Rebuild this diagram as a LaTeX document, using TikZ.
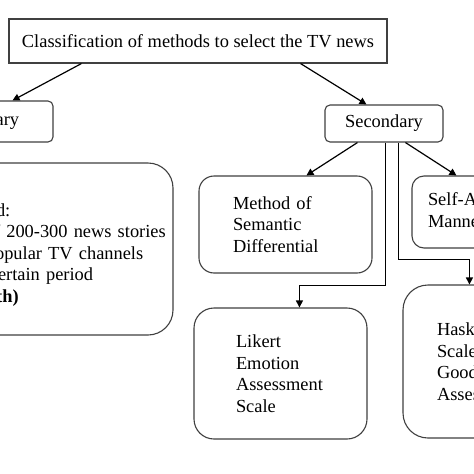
\documentclass[tikz,border=0pt]{standalone}
\usepackage{fontspec}
\setmainfont{Liberation Serif}
\usetikzlibrary{arrows.meta}
\begin{document}
\begin{tikzpicture}[x=1pt,y=-1pt,
  every node/.style={font=\fontsize{18.4}{21.5}\selectfont},
  boxline/.style={draw=black!75,line width=1.1pt},
  sqbox/.style={boxline,rectangle,inner sep=0pt},
  rbox/.style={boxline,rectangle,inner sep=0pt,align=left},
  arr/.style={line width=1.2pt,-{Triangle[length=7pt,width=7pt]}}]
\useasboundingbox (0,0) rectangle (474,474);
\clip (0,0) rectangle (474,474);
\fill[white] (0,0) rectangle (474,474);
% boxes
\node[sqbox,minimum width=378pt,minimum height=44pt] (title) at (198,41) {Classification of methods to select the TV news};
\node[rbox,rounded corners=5pt,minimum width=127pt,minimum height=41pt] (prim) at (-10.5,121.5) {Primary};
\node[rbox,rounded corners=5pt,minimum width=118pt,minimum height=37pt] (sec) at (384,123.5) {Secondary};
\node[rbox,rounded corners=25pt,minimum width=230pt,minimum height=172pt,text width=220pt] (big) at (58,249)
  {\mbox{\rule{0pt}{24.5pt}Method:}\\\mbox{\hspace*{-4pt}a set of 200-300 news stories}\\\mbox{\hspace*{-4pt}from popular TV channels}\\\mbox{for a certain period}\\\mbox{\hspace*{-8pt}\textbf{(1 month)}}};
\node[rbox,rounded corners=15pt,minimum width=173pt,minimum height=97pt,text width=105pt] (sem) at (285.5,224.5)
  {Method of\\Semantic\\Differential};
\node[rbox,rounded corners=12pt,minimum width=160pt,minimum height=72pt,text width=128pt] (self) at (492,212)
  {Self-Assessment\\Mannequin};
\node[rbox,rounded corners=20pt,minimum width=173pt,minimum height=131pt,text width=89pt] (lik) at (280.5,373.5)
  {Likert\\Emotion\\Assessment\\Scale};
\node[rbox,rounded corners=25pt,minimum width=160pt,minimum height=153pt,text width=92pt] (hask) at (483,361.5)
  {Haskell\\Scale of\\Goodness\\Assessment};
% connectors
\draw[arr] ([xshift=73pt]title.south west) -- ([xshift=-41pt]prim.north east);
\draw[arr] ([xshift=-87pt]title.south east) -- ([xshift=42pt]sec.north west);
\draw[arr] ([xshift=33pt]sec.south west) -- ([xshift=108pt]sem.north west);
\draw[arr] ([xshift=81pt]sec.south west) -- ([xshift=45pt]self.north west);
\draw[arr] ([xshift=61pt]sec.south west) -- ++(0,143) -| ([xshift=106pt]lik.north west);
\draw[arr] ([xshift=74pt]sec.south west) -- ++(0,117) -| ([xshift=67pt]hask.north west);
\end{tikzpicture}
\end{document}
